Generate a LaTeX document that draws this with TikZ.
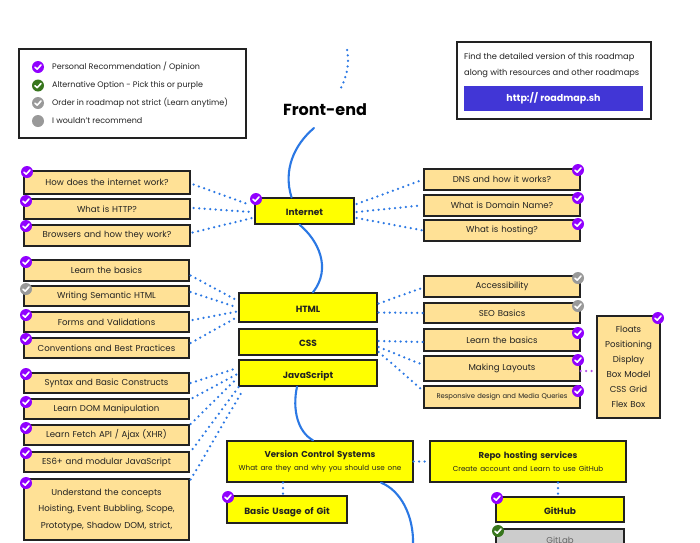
\documentclass[tikz,border=0pt]{standalone}
\usepackage{fontspec}
\setmainfont{Poppins}
\definecolor{orangebox}{HTML}{FFE196}
\definecolor{yellowbox}{HTML}{FFFF00}
\definecolor{grayboxc}{HTML}{CCCCCC}
\definecolor{linkblue}{HTML}{2B78E4}
\definecolor{purplec}{HTML}{9100FF}
\definecolor{greenc}{HTML}{38761D}
\definecolor{grayc}{HTML}{999999}
\definecolor{inkc}{HTML}{222222}
\definecolor{btnc}{HTML}{4136D6}
\definecolor{dotpurple}{HTML}{B44DE8}
\newcommand{\lowtxt}[1]{\raisebox{-1.5pt}[\height][0pt]{#1}}
\tikzset{
  base/.style={draw=inkc,line width=1.4pt,inner sep=0pt,align=center,text=inkc,font=\fontsize{8.6}{14.5}\selectfont},
  topicbox/.style={base,fill=orangebox},
  mainbox/.style={base,fill=yellowbox,font=\fontsize{9}{14}\selectfont\bfseries},
  altbox/.style={base,fill=grayboxc,text=black!60},
  framebox/.style={draw=inkc,line width=1.4pt,fill=white},
  dots/.style={draw=linkblue,line width=2.5pt,line cap=round,dash pattern=on 0pt off 5.5pt},
  pdots/.style={dots,draw=dotpurple},
  curve/.style={draw=linkblue,line width=2.1pt,line cap=round},
  legendtext/.style={anchor=west,inner sep=0pt,text=inkc,font=\fontsize{8}{9}\selectfont},
  infotext/.style={legendtext,font=\fontsize{8.3}{9}\selectfont},
  pics/badge/.style={code={
    \fill[#1] (0,0) circle (6pt);
    \draw[white,line width=1.6pt,line cap=round,line join=round] (-3,0.2) -- (-0.8,2.2) -- (3,-2);
  }},
  pics/dotbadge/.style={code={\fill[#1] (0,0) circle (6pt);}}
}
\newcommand{\bx}[6]{%
  \pgfmathsetmacro{\cx}{(#3+#5)/2}\pgfmathsetmacro{\cy}{(#4+#6)/2}%
  \pgfmathsetmacro{\ww}{#5-#3}\pgfmathsetmacro{\hh}{#6-#4}%
  \node[#1,minimum width=\ww pt,minimum height=\hh pt,text width=\ww pt] (#2) at (\cx,\cy)}
\begin{document}
\begin{tikzpicture}[x=1pt,y=-1pt]
\useasboundingbox (0,0) rectangle (700,542);
\clip (0,0) rectangle (700,542);
\fill[white] (0,0) rectangle (700,542);

\coordinate (topa) at (347,50);
\coordinate (topb) at (340,90);
\coordinate (ttl) at (314,128);
% legend
\node[framebox,minimum width=227pt,minimum height=89pt,inner sep=0pt] (legend) at (132.5,93.5) {};
\pic at (38,67) {badge=purplec};
\pic at (38,85.5) {badge=greenc};
\pic at (38,103) {badge=grayc};
\pic at (38,121) {dotbadge=grayc};
\node[legendtext] (l1) at (52,67) {Personal Recommendation / Opinion};
\node[legendtext] (l2) at (52,85.5) {Alternative Option - Pick this or purple};
\node[legendtext] (l3) at (52,103) {Order in roadmap not strict (Learn anytime)};
\node[legendtext] (l4) at (52,121) {I wouldn't recommend};
% info
\node[framebox,minimum width=194pt,minimum height=77pt,inner sep=0pt] (info) at (554,80.5) {};
\node[infotext] (i1) at (464,57) {Find the detailed version of this roadmap};
\node[infotext] (i2) at (464,73) {along with resources and other roadmaps};
\node[fill=btnc,text=white,minimum width=179pt,minimum height=25pt,inner sep=0pt,font=\fontsize{9.5}{11}\selectfont\bfseries] (btn) at (553.5,98.5) {http:// roadmap.sh};
% title
\node[inner sep=0pt,text=black,font=\fontsize{16}{18}\selectfont\bfseries] (title) at (325,110) {Front-end};

% boxes
\bx{topicbox}{how}{24}{171}{190}{194} {How does the internet work?};
\bx{topicbox}{http}{24}{199}{190}{219} {What is HTTP?};
\bx{topicbox}{brow}{24}{225}{190}{246} {Browsers and how they work?};
\bx{mainbox}{internet}{255}{198}{354}{224} {\lowtxt{Internet}};
\bx{topicbox}{dns}{424}{169}{580}{190} {DNS and how it works?};
\bx{topicbox}{domain}{424}{195}{580}{216} {What is Domain Name?};
\bx{topicbox}{hosting}{424}{220}{580}{241} {What is hosting?};

\bx{topicbox}{basics}{24}{260}{189}{281} {Learn the basics};
\bx{topicbox}{semantic}{24}{286}{189}{306} {Writing Semantic HTML};
\bx{topicbox}{forms}{24}{312}{189}{332} {Forms and Validations};
\bx{topicbox}{conv}{24}{338}{189}{358} {Conventions and Best Practices};
\bx{mainbox}{html}{239}{293}{377}{322} {\lowtxt{HTML}};
\bx{mainbox}{css}{239}{329}{377}{355} {\lowtxt{CSS}};
\bx{mainbox}{js}{239}{360}{377}{386} {\lowtxt{JavaScript}};

\bx{topicbox}{syntax}{24}{373}{189}{393} {Syntax and Basic Constructs};
\bx{topicbox}{dom}{24}{399}{189}{419} {Learn DOM Manipulation};
\bx{topicbox}{fetch}{24}{425}{189}{445} {Learn Fetch API / Ajax (XHR)};
\bx{topicbox}{es6}{24}{452}{189}{472} {ES6+ and modular JavaScript};
\bx{topicbox,font=\fontsize{8.6}{16.5}\selectfont}{concepts}{24}{479}{189}{540} {Understand the concepts\\Hoisting, Event Bubbling, Scope,\\Prototype, Shadow DOM, strict,};

\bx{topicbox}{access}{424}{276}{580}{297} {Accessibility};
\bx{topicbox}{seo}{424}{303}{580}{323} {SEO Basics};
\bx{topicbox}{cssbasics}{424}{329}{580}{351} {Learn the basics};
\bx{topicbox}{layouts}{424}{356}{580}{381} {Making Layouts};
\bx{topicbox,font=\fontsize{6.8}{8}\selectfont}{resp}{424}{386}{580}{408} {Responsive design and Media Queries};
\bx{topicbox,font=\fontsize{8.6}{15}\selectfont}{floats}{597}{316}{660}{418} {Floats\\Positioning\\Display\\Box Model\\CSS Grid\\Flex Box};

\bx{mainbox,font=\fontsize{8.6}{13.5}\selectfont}{vcs}{227}{441}{413}{482} {\textbf{Version Control Systems}\\\fontsize{7.2}{13.5}\selectfont\mdseries What are they and why you should use one};
\bx{mainbox,font=\fontsize{8.6}{13.5}\selectfont}{repo}{430}{441}{626}{482} {\textbf{Repo hosting services}\\\fontsize{7.2}{13.5}\selectfont\mdseries Create account and Learn to use GitHub};
\bx{mainbox}{git}{227}{496}{347}{523} {\lowtxt{Basic Usage of Git}};
\bx{mainbox}{github}{496}{497}{624}{522} {\lowtxt{GitHub}};
\bx{altbox}{gitlab}{496}{529}{624}{551} {GitLab};

% curves
\draw[dots] (topa) .. controls (350,65) and (346,78) .. (topb);
\draw[curve] (ttl) .. controls (294,145) and (283,170) .. ([xshift=-13pt]internet.north);
\draw[curve] ([xshift=-5pt]internet.south) .. controls (318,240) and (332,268) .. ([xshift=5pt]html.north);
\draw[curve] ([xshift=-11pt]js.south) .. controls (292,410) and (298,432) .. ([xshift=-7pt]vcs.north);
\coordinate (offbottom) at (413,545);
\draw[curve] ([xshift=61pt]vcs.south) .. controls (400,490) and (414,515) .. (offbottom);

% dotted links
\draw[dots] ([xshift=3pt,yshift=-2pt]how.east) -- ([xshift=-4pt,yshift=6pt]internet.west);
\draw[dots] ([xshift=3pt,yshift=1pt]http.east) -- ([xshift=-3pt,yshift=-1pt]internet.west);
\draw[dots] ([xshift=2pt,yshift=3pt]brow.east) -- ([xshift=-2pt,yshift=-7pt]internet.west);
\draw[dots] ([xshift=2pt,yshift=7pt]internet.east) -- (dns.west);
\draw[dots] ([xshift=2pt,yshift=-1pt]internet.east) -- ([xshift=-3pt]domain.west);
\draw[dots] ([xshift=2pt,yshift=-7pt]internet.east) -- (hosting.west);

\draw[dots] ([xshift=1pt,yshift=-5pt]basics.east) -- ([xshift=-1pt,yshift=7pt]html.west);
\draw[dots] ([xshift=1pt,yshift=4pt]semantic.east) -- ([xshift=-1pt,yshift=0pt]html.west);
\draw[dots] ([xshift=3pt,yshift=2pt]forms.east) -- ([xshift=-1pt,yshift=-4pt]html.west);
\draw[dots] ([xshift=1pt,yshift=5pt]conv.east) -- ([yshift=-9pt]html.west);

\draw[dots] ([xshift=1pt]syntax.east) -- ([xshift=-1pt,yshift=5pt]js.west);
\draw[dots] ([xshift=3pt,yshift=11pt]dom.east) -- ([xshift=-1pt,yshift=-1pt]js.west);
\draw[dots] ([xshift=1pt,yshift=11pt]fetch.east) -- ([xshift=-1pt,yshift=-5pt]js.west);
\draw[dots] ([xshift=3pt,yshift=13pt]es6.east) -- ([xshift=1pt,yshift=-13pt]js.west);
\draw[dots] ([xshift=1pt,yshift=30pt]concepts.east) -- ([xshift=4pt,yshift=-18pt]js.west);

\draw[dots] ([xshift=1pt,yshift=4pt]html.east) -- ([yshift=-1pt]access.west);
\draw[dots] ([xshift=1pt,yshift=-5pt]html.east) -- (seo.west);
\draw[dots] ([xshift=1pt,yshift=1pt]css.east) -- ([yshift=-2pt]cssbasics.west);
\draw[dots] ([xshift=1pt,yshift=-5pt]css.east) -- ([yshift=3.5pt]layouts.west);
\draw[dots] ([xshift=1pt,yshift=-10pt]css.east) -- ([yshift=6pt]resp.west);
\draw[pdots] ([yshift=-2.5pt]layouts.east) -- ([yshift=-4pt]floats.west);
\draw[dots] (vcs.east) -- (repo.west);
\draw[dots] ([xshift=-37pt]vcs.south) -- ([xshift=-4pt]git.north);
\draw[dots] ([xshift=30pt]repo.south) -- ([xshift=-2pt]github.north);

% badges
\pic at (27,172) {badge=purplec};
\pic at (26,201) {badge=purplec};
\pic at (26,226) {badge=purplec};
\pic at (256,199) {badge=purplec};
\pic at (578,170) {badge=purplec};
\pic at (578,198) {badge=purplec};
\pic at (578,224) {badge=purplec};
\pic at (26,262) {badge=purplec};
\pic at (26,289) {badge=grayc};
\pic at (26,315) {badge=purplec};
\pic at (26,339) {badge=purplec};
\pic at (26,374) {badge=purplec};
\pic at (26,402) {badge=purplec};
\pic at (26,428) {badge=purplec};
\pic at (26,453) {badge=purplec};
\pic at (26,483) {badge=purplec};
\pic at (578,278) {badge=grayc};
\pic at (578,306) {badge=grayc};
\pic at (578,333) {badge=purplec};
\pic at (578,360) {badge=purplec};
\pic at (578,391) {badge=purplec};
\pic at (658,318) {badge=purplec};
\pic at (228,497) {badge=purplec};
\pic at (497,498) {badge=purplec};
\pic at (498,531) {badge=greenc};
\end{tikzpicture}
\end{document}
